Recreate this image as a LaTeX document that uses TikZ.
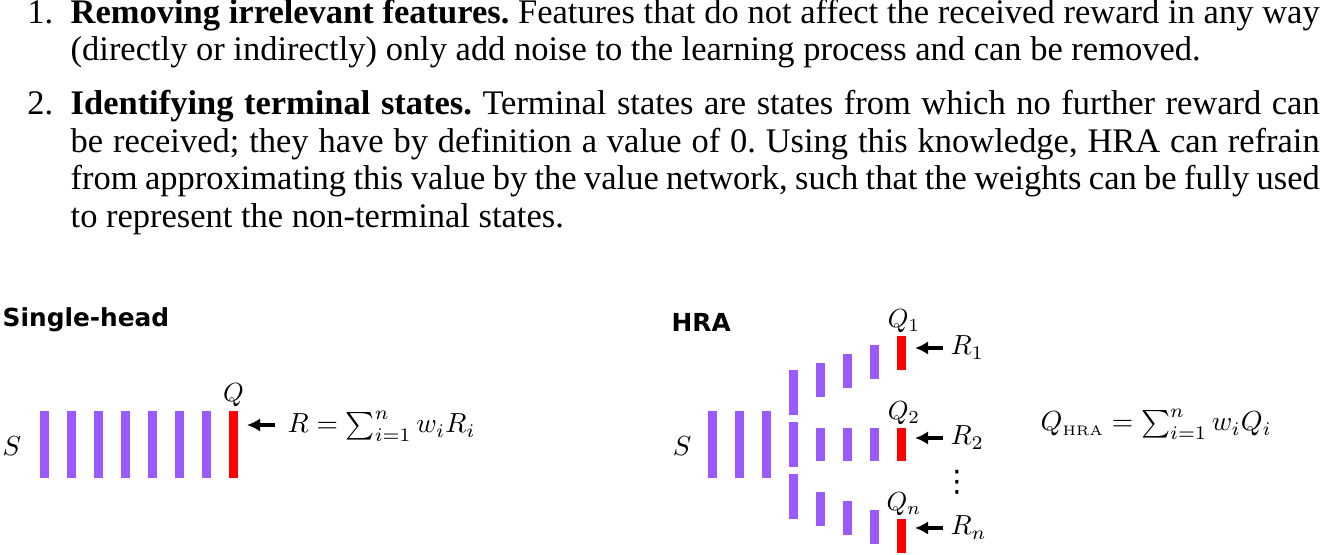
\documentclass[tikz,border=0pt]{standalone}
\usepackage[no-math]{fontspec}
\usepackage{graphicx}
\setmainfont{Liberation Serif}
\newfontfamily\titlefont{DejaVu Sans}
\newfontfamily\dotsfont{DejaVu Sans}
\usetikzlibrary{arrows.meta,calc}
\newlength\pxu
\setlength\pxu{0.29pt}
\definecolor{barpurple}{RGB}{155,90,255}
\definecolor{barred}{RGB}{255,0,0}
\newcommand\mkbar[5]{\node[#1, minimum height=#5\pxu] (#2) at (#3+4.5,#4) {};}
\newcommand\mfrm[1]{\scalebox{0.8}{$#1$}}
\newcommand\mql[1]{\scalebox{0.76}{$#1$}}
\begin{document}
\frenchspacing
\begin{tikzpicture}[x=0.29pt,y=-0.29pt,
  barbase/.style={rectangle, draw=none, inner sep=0pt, outer sep=0pt, minimum width=9\pxu, anchor=north},
  pbar/.style={barbase, fill=barpurple},
  rbar/.style={barbase, fill=barred},
  txt/.style={anchor=base west, inner sep=0pt, font=\fontsize{10pt}{11pt}\selectfont},
  lbl/.style={inner sep=0pt, font=\fontsize{10pt}{12pt}\selectfont},
  rlbl/.style={lbl, anchor=base west},
  frm/.style={lbl, anchor=base west},
  qlbl/.style={lbl, anchor=south},
  ttl/.style={anchor=base west, inner sep=0pt, font=\titlefont\bfseries\fontsize{7.2pt}{8.6pt}\selectfont},
  arr/.style={-{Latex[length=3.8pt,width=3.9pt]}, line width=1pt}]
\useasboundingbox (0,0) rectangle (1323,555);

% ---- text ----
\node[txt, anchor=base east] (n1) at (54,24) {1.};
\node[txt] (l1) at (70,24) {\makebox[362.2pt][s]{\textbf{Removing irrelevant features.} Features that do not affect the received reward in any way}};
\node[txt] (l2) at (70,61) {(directly or indirectly) only add noise to the learning process and can be removed.};
\node[txt, anchor=base east] (n2) at (54,115) {2.};
\node[txt] (l3) at (70,115) {\makebox[362.2pt][s]{\textbf{Identifying terminal states.} Terminal states are states from which no further reward can}};
\node[txt] (l4) at (70,152.5) {\makebox[362.2pt][s]{be received; they have by definition a value of 0. Using this knowledge, HRA can refrain}};
\node[txt] (l5) at (70,190) {\makebox[362.2pt][s]{from approximating this value by the value network, such that the weights can be fully used}};
\node[txt] (l6) at (70,227.5) {to represent the non-terminal states.};

% ---- single-head ----
\node[ttl] (t1) at (2,327) {Single-head};
\node[lbl] (S1) at (12,446) {\mfrm{S}};
\foreach \k in {0,...,6} {\mkbar{pbar}{s\k}{40+27*\k}{411}{67}}
\mkbar{rbar}{sq}{229}{411}{67}
\node[qlbl] (Q0) at ([yshift=4\pxu]sq.north) {\mql{Q}};
\node[frm] (Rsum) at (287,433) {\mfrm{R=\sum_{i=1}^n w_iR_i}};
\coordinate (a0) at ($(Rsum.base west)+(-12,-8)$);
\draw[arr, shorten >=9\pxu] (a0) -- (a0 -| sq.east);

% ---- HRA ----
\node[ttl] (t2) at (671,332) {HRA};
\node[lbl] (S2) at (682,446) {\mfrm{S}};
\mkbar{pbar}{h1}{708}{411}{67}
\mkbar{pbar}{h2}{735}{411}{67}
\mkbar{pbar}{h3}{762}{411}{67}
% column 1 (split)
\mkbar{pbar}{ua}{789}{370}{45}
\mkbar{pbar}{ma}{789}{422}{45}
\mkbar{pbar}{da}{789}{474}{45}
% upper branch
\mkbar{pbar}{ub}{816}{363}{34}
\mkbar{pbar}{uc}{843}{354}{34}
\mkbar{pbar}{ud}{870}{345}{34}
\mkbar{rbar}{ur}{897}{336}{34}
% middle branch
\mkbar{pbar}{mb}{816}{428}{33}
\mkbar{pbar}{mc}{843}{428}{33}
\mkbar{pbar}{md}{870}{428}{33}
\mkbar{rbar}{mr}{897}{428}{33}
% lower branch
\mkbar{pbar}{db}{816}{492}{34}
\mkbar{pbar}{dc}{843}{501}{34}
\mkbar{pbar}{dd}{870}{510}{34}
\mkbar{rbar}{dr}{897}{519}{34}

\node[qlbl] (Q1) at ([xshift=2.5\pxu,yshift=3\pxu]ur.north) {\mql{Q_1}};
\node[qlbl] (Q2) at ([xshift=2.5\pxu,yshift=3\pxu]mr.north) {\mql{Q_2}};
\node[qlbl] (Qn) at ([xshift=2.5\pxu,yshift=3\pxu]dr.north) {\mql{Q_n}};

\node[rlbl] (R1) at (950,355) {\mfrm{R_1}};
\node[rlbl] (R2) at (950,445) {\mfrm{R_2}};
\node[rlbl] (Rn) at (950,535) {\mfrm{R_n}};
\coordinate (a1) at ($(R1.base west)+(-7,-7)$);
\coordinate (a2) at ($(R2.base west)+(-7,-7)$);
\coordinate (a3) at ($(Rn.base west)+(-7,-7)$);
\draw[arr, shorten >=9\pxu] (a1) -- (a1 -| ur.east);
\draw[arr, shorten >=9\pxu] (a2) -- (a2 -| mr.east);
\draw[arr, shorten >=9\pxu] (a3) -- (a3 -| dr.east);
\node[inner sep=0pt, font=\dotsfont\fontsize{8.6pt}{10pt}\selectfont] (vd) at (957,482) {⋮};

\node[frm] (Qsum) at (1040,431) {\mfrm{Q_{\scriptscriptstyle\mathrm{HRA}}=\sum_{i=1}^n w_iQ_i}};
\end{tikzpicture}
\end{document}
